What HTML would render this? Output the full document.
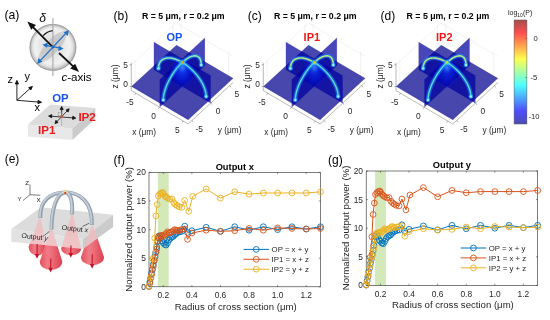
<!DOCTYPE html>
<html><head><meta charset="utf-8"><style>
html,body{margin:0;padding:0;background:#fff;width:550px;height:320px;overflow:hidden}
svg{display:block;filter:blur(0.3px)}
text{font-family:"Liberation Sans", sans-serif}
</style></head><body>
<svg width="550" height="320" viewBox="0 0 550 320" font-family='"Liberation Sans", sans-serif'>
<defs>
<radialGradient id="sph" cx="0.5" cy="0.5" r="0.5" fx="0.45" fy="0.42">
<stop offset="0" stop-color="#e0e0e0"/><stop offset="0.5" stop-color="#e6e6e6"/><stop offset="0.76" stop-color="#f2f2f2"/><stop offset="0.88" stop-color="#dedede"/><stop offset="0.96" stop-color="#bcbcbc"/><stop offset="1" stop-color="#959595"/></radialGradient>
<radialGradient id="glow" cx="0.5" cy="0.5" r="0.5" fx="0.5" fy="0.3">
<stop offset="0" stop-color="#1a50ff" stop-opacity="0.95"/><stop offset="0.55" stop-color="#0a28f0" stop-opacity="0.6"/><stop offset="1" stop-color="#0010d0" stop-opacity="0"/></radialGradient>
<radialGradient id="glow2" cx="0.5" cy="0.5" r="0.5">
<stop offset="0" stop-color="#3c8cff" stop-opacity="0.9"/><stop offset="1" stop-color="#2060ff" stop-opacity="0"/></radialGradient>
<linearGradient id="jet" x1="0" y1="1" x2="0" y2="0">
<stop offset="0" stop-color="#4d4db1"/><stop offset="0.125" stop-color="#4d4dff"/><stop offset="0.375" stop-color="#4dffff"/><stop offset="0.625" stop-color="#ffff4d"/><stop offset="0.875" stop-color="#ff4d4d"/><stop offset="1" stop-color="#a64d4d"/></linearGradient>
<linearGradient id="coneg" x1="0" y1="0" x2="1" y2="0">
<stop offset="0" stop-color="#e4505e"/><stop offset="0.35" stop-color="#ee7c86"/><stop offset="0.55" stop-color="#ec6e7a"/><stop offset="1" stop-color="#dc3e4e"/></linearGradient>
<radialGradient id="apexg" cx="0.5" cy="0.5" r="0.5"><stop offset="0" stop-color="#fff0a0" stop-opacity="0.9"/><stop offset="1" stop-color="#fff0a0" stop-opacity="0"/></radialGradient>
<clipPath id="below"><polygon points="0,241.8 11.3,241.8 83,249 113.1,227 120,227 120,300 0,300"/></clipPath>
</defs>
<text x="4.4" y="18.9" font-size="12.2">(a)</text>
<circle cx="52.9" cy="47.4" r="23.1" fill="url(#sph)" stroke="#8c8c8c" stroke-width="0.6"/>
<ellipse cx="52.3" cy="46.8" rx="20" ry="6.8" transform="rotate(-48 52.3 46.8)" fill="#8a8a8a" fill-opacity="0.3"/>
<line x1="52.9" y1="18" x2="52.9" y2="76" stroke="#a8a8a8" stroke-width="1.1"/>
<path d="M43.2,35.6 A15.5,15.5 0 0 1 52.6,30.6" fill="none" stroke="#111" stroke-width="1.3"/>
<text x="39.2" y="21.8" font-size="12" font-style="italic" font-family="'Liberation Serif', serif">δ</text>
<line x1="31" y1="25.1" x2="53.6" y2="47.9" stroke="#111" stroke-width="1.8"/>
<line x1="59" y1="53" x2="75.3" y2="68.4" stroke="#111" stroke-width="1.8"/>
<polygon points="27.3,21.6 36.0,25.0 31.2,29.8" fill="#111"/>
<polygon points="79.0,72.0 70.3,68.6 75.1,63.8" fill="#111"/>
<line x1="39.6" y1="61.4" x2="66.5" y2="32.6" stroke="#1f6fc4" stroke-width="1.3"/>
<polygon points="37.2,64.0 38.4,58.0 42.4,61.7" fill="#1f6fc4"/>
<polygon points="68.9,30.0 67.7,36.0 63.7,32.3" fill="#1f6fc4"/>
<line x1="45.5" y1="45.4" x2="60.5" y2="48.1" stroke="#1f6fc4" stroke-width="1.3"/>
<polygon points="42.4,44.8 47.9,42.6 47.0,47.8" fill="#1f6fc4"/>
<polygon points="63.6,48.7 58.1,50.9 59.0,45.7" fill="#1f6fc4"/>
<text x="61.4" y="81.2" font-size="11.6"><tspan font-style="italic">c</tspan>-axis</text>
<g stroke="#111" stroke-width="0.9" fill="#111">
<line x1="16.9" y1="100.3" x2="16.90" y2="83.50"/><polygon points="16.9,80.4 18.50,84.00 15.30,84.00"/><line x1="16.9" y1="100.3" x2="30.09" y2="88.47"/><polygon points="32.4,86.4 30.79,89.99 28.65,87.61"/><line x1="16.9" y1="100.3" x2="38.51" y2="102.05"/><polygon points="41.6,102.3 37.88,103.60 38.14,100.41"/>
</g>
<text x="7.6" y="83.4" font-size="11">z</text>
<text x="24.6" y="79.8" font-size="11">y</text>
<text x="34.6" y="110.6" font-size="11">x</text>
<polygon points="50.3,104.6 95.3,107.9 72.4,128.6 27.9,124.5" fill="#dcdcdc"/>
<polygon points="27.9,124.5 72.4,128.6 72.4,140 27.9,136.6" fill="#e8e8e8"/>
<polygon points="72.4,128.6 95.3,107.9 95.3,118.8 72.4,140" fill="#cbcbcb"/>
<g stroke="#111" stroke-width="0.8" fill="#111">
<line x1="61.7" y1="116.4" x2="61.7" y2="126" stroke="#aaa"/>
<line x1="50.8" y1="116.2" x2="73.5" y2="117.9"/><polygon points="48.6,116.0 51.8,114.6 51.6,117.8"/><polygon points="75.8,118.1 72.6,119.4 72.8,116.2"/>
<line x1="61.7" y1="116.4" x2="61.7" y2="108.6"/><polygon points="61.7,106.4 60.2,109.6 63.2,109.6"/>
<line x1="56.2" y1="122.4" x2="67.6" y2="110.4"/><polygon points="55.0,123.6 55.9,120.3 58.0,122.5"/><polygon points="69.2,108.8 68.1,112.1 66.1,109.9"/>
</g>
<rect x="58.2" y="112.6" width="3.2" height="3.2" fill="none" stroke="#999" stroke-width="0.5"/>
<circle cx="61.7" cy="116.6" r="1.3" fill="#d85a3a"/>
<text x="52.2" y="102.2" font-size="11.4" font-weight="bold" fill="#1852ee">OP</text>
<text x="38.0" y="133.8" font-size="11.6" font-weight="bold" fill="#f01818">IP1</text>
<text x="78.4" y="121.4" font-size="11.6" font-weight="bold" fill="#f01818">IP2</text>
<text x="113.6" y="19.6" font-size="12">(b)</text>
<text x="141.9" y="18.9" font-size="8.75" font-weight="bold">R = 5 μm, r = 0.2 μm</text>
<g stroke="#e6e6e6" stroke-width="0.5"><line x1="135.07" y1="87.12" x2="135.07" y2="59.38"/><line x1="181.23" y1="51.68" x2="181.23" y2="23.93"/><line x1="153.9" y1="69.75" x2="153.9" y2="42"/><line x1="204.9" y1="65.6" x2="204.9" y2="37.85"/><line x1="172.73" y1="52.38" x2="172.73" y2="24.62"/><line x1="228.57" y1="79.52" x2="228.57" y2="51.77"/><line x1="131.3" y1="64.8" x2="176.5" y2="23.1"/><line x1="176.5" y1="23.1" x2="233.3" y2="56.5"/><line x1="136.03" y1="93.38" x2="181.23" y2="51.68"/><line x1="135.07" y1="87.12" x2="191.87" y2="120.53"/><line x1="159.7" y1="107.3" x2="204.9" y2="65.6"/><line x1="153.9" y1="69.75" x2="210.7" y2="103.15"/><line x1="183.37" y1="121.22" x2="228.57" y2="79.52"/><line x1="172.73" y1="52.38" x2="229.53" y2="85.78"/></g>
<g stroke="#8a8a8a" stroke-width="0.6"><line x1="131.3" y1="90.6" x2="188.1" y2="124"/><line x1="188.1" y1="124" x2="233.3" y2="82.3"/><line x1="131.3" y1="90.6" x2="131.3" y2="62.85"/></g>
<g stroke="#555" stroke-width="0.5"><line x1="136.03" y1="93.38" x2="134.43" y2="94.88"/><line x1="191.87" y1="120.53" x2="193.47" y2="122.03"/><line x1="159.7" y1="107.3" x2="158.1" y2="108.8"/><line x1="210.7" y1="103.15" x2="212.3" y2="104.65"/><line x1="183.37" y1="121.22" x2="181.77" y2="122.72"/><line x1="229.53" y1="85.78" x2="231.13" y2="87.28"/><line x1="131.3" y1="86.6" x2="129.7" y2="86.6"/><line x1="131.3" y1="64.8" x2="129.7" y2="64.8"/></g>
<g font-size="8.4" fill="#262626" text-anchor="middle"><text x="130.03" y="104.78">-5</text><text x="199.27" y="131.53">-5</text><text x="153.7" y="118.7">0</text><text x="218.1" y="114.15">0</text><text x="177.37" y="132.62">5</text><text x="236.93" y="96.78">5</text></g>
<g font-size="8.4" fill="#262626" text-anchor="end"><text x="127.9" y="67.5">5</text><text x="127.9" y="87.3">0</text></g>
<text font-size="8.4" fill="#262626" text-anchor="middle" transform="translate(118.3,76.5) rotate(-90)">z (μm)</text>
<text x="144.2" y="134.6" font-size="8.3" fill="#262626" text-anchor="middle">x (μm)</text>
<text x="229.7" y="132.6" font-size="8.3" fill="#262626" text-anchor="middle">y (μm)</text>
<polygon points="131.3,86.6 188.1,120 233.3,78.3 176.5,44.9" fill="#00008f" fill-opacity="0.72"/>
<polygon points="153.9,69.75 210.7,103.15 210.7,75.4 153.9,42" fill="#0000a0" fill-opacity="0.72"/>
<polygon points="159.7,107.3 204.9,65.6 204.9,37.85 159.7,79.55" fill="#0000a0" fill-opacity="0.72"/>
<ellipse cx="182.3" cy="73.45" rx="13" ry="16" fill="url(#glow)" opacity="1.0"/>
<ellipse cx="182.3" cy="67.4" rx="5" ry="6" fill="url(#glow2)"/>
<path d="M179.21,60.75 L178.36,60.36 L177.51,59.99 L176.67,59.66 L175.84,59.35 L175.02,59.08 L174.21,58.83 L173.4,58.62 L172.61,58.43 L171.83,58.28 L171.07,58.16 L170.32,58.07 L169.58,58.01 L168.86,57.98 L168.16,57.99 L167.48,58.02 L166.82,58.09 L166.17,58.19 L165.55,58.32 L164.95,58.49 L164.37,58.68 L163.82,58.91 L163.28,59.16 L162.78,59.45 L162.3,59.76 L161.84,60.11 L161.41,60.48 L161.01,60.88 L160.64,61.31 L160.29,61.77 L159.97,62.26 L159.69,62.77 L159.43,63.3 L159.2,63.86 L159,64.45 L158.83,65.06 L158.69,65.69 L158.58,66.34 L158.51,67.02 L158.46,67.71 L158.44,68.42" fill="none" stroke="#1a8cff" stroke-opacity="0.55" stroke-width="4.2" stroke-linecap="round"/>
<path d="M201.28,64.94 L201.27,64.23 L201.23,63.54 L201.17,62.88 L201.09,62.24 L200.98,61.63 L200.84,61.04 L200.68,60.49 L200.5,59.96 L200.3,59.46 L200.07,58.99 L199.81,58.55 L199.54,58.15 L199.24,57.77 L198.92,57.43 L198.58,57.12 L198.22,56.84 L197.83,56.59 L197.43,56.38 L197.01,56.2 L196.57,56.06 L196.11,55.95 L195.63,55.88 L195.13,55.84 L194.62,55.83 L194.09,55.86 L193.55,55.92 L192.99,56.02 L192.42,56.15 L191.84,56.32 L191.24,56.52 L190.63,56.75 L190.01,57.02 L189.38,57.32 L188.74,57.65 L188.09,58.01 L187.44,58.41 L186.78,58.84 L186.11,59.29 L185.44,59.78 L184.76,60.3" fill="none" stroke="#1a8cff" stroke-opacity="0.55" stroke-width="4.2" stroke-linecap="round"/>
<path d="M206.16,96.48 L206.14,95.68 L206.08,94.86 L205.99,94.02 L205.86,93.17 L205.7,92.3 L205.5,91.41 L205.26,90.51 L204.99,89.6 L204.68,88.67 L204.34,87.74 L203.96,86.8 L203.56,85.85 L203.11,84.89 L202.64,83.93 L202.14,82.97 L201.6,82.01 L201.03,81.05 L200.44,80.1 L199.82,79.14 L199.17,78.19 L198.49,77.25 L197.79,76.31 L197.07,75.39 L196.32,74.47 L195.55,73.57 L194.76,72.68 L193.96,71.81 L193.13,70.95 L192.29,70.11 L191.43,69.29 L190.56,68.49 L189.67,67.72 L188.78,66.96 L187.87,66.23 L186.95,65.52 L186.03,64.84 L185.1,64.19 L184.17,63.56 L183.24,62.97 L182.3,62.4" fill="none" stroke="#1a8cff" stroke-opacity="0.55" stroke-width="4.2" stroke-linecap="round"/>
<path d="M182.3,62.4 L181.55,63.1 L180.81,63.84 L180.07,64.6 L179.33,65.39 L178.6,66.2 L177.87,67.04 L177.15,67.91 L176.43,68.79 L175.73,69.7 L175.04,70.63 L174.35,71.57 L173.68,72.54 L173.02,73.51 L172.38,74.51 L171.75,75.51 L171.14,76.52 L170.55,77.55 L169.97,78.58 L169.41,79.62 L168.88,80.66 L168.36,81.7 L167.86,82.75 L167.39,83.79 L166.94,84.83 L166.52,85.87 L166.11,86.91 L165.74,87.93 L165.39,88.95 L165.06,89.96 L164.76,90.96 L164.49,91.94 L164.25,92.91 L164.03,93.86 L163.84,94.8 L163.68,95.72 L163.55,96.61 L163.45,97.49 L163.37,98.34 L163.33,99.16 L163.32,99.96" fill="none" stroke="#1a8cff" stroke-opacity="0.55" stroke-width="4.2" stroke-linecap="round"/>
<path d="M179.21,60.75 L178.36,60.36 L177.51,59.99 L176.67,59.66 L175.84,59.35 L175.02,59.08 L174.21,58.83 L173.4,58.62 L172.61,58.43 L171.83,58.28 L171.07,58.16 L170.32,58.07 L169.58,58.01 L168.86,57.98 L168.16,57.99 L167.48,58.02 L166.82,58.09 L166.17,58.19 L165.55,58.32 L164.95,58.49 L164.37,58.68 L163.82,58.91 L163.28,59.16 L162.78,59.45 L162.3,59.76 L161.84,60.11 L161.41,60.48 L161.01,60.88 L160.64,61.31 L160.29,61.77 L159.97,62.26 L159.69,62.77 L159.43,63.3 L159.2,63.86 L159,64.45 L158.83,65.06 L158.69,65.69 L158.58,66.34 L158.51,67.02 L158.46,67.71 L158.44,68.42" fill="none" stroke="#88e8b8" stroke-width="1.6" stroke-linecap="round"/>
<path d="M201.28,64.94 L201.27,64.23 L201.23,63.54 L201.17,62.88 L201.09,62.24 L200.98,61.63 L200.84,61.04 L200.68,60.49 L200.5,59.96 L200.3,59.46 L200.07,58.99 L199.81,58.55 L199.54,58.15 L199.24,57.77 L198.92,57.43 L198.58,57.12 L198.22,56.84 L197.83,56.59 L197.43,56.38 L197.01,56.2 L196.57,56.06 L196.11,55.95 L195.63,55.88 L195.13,55.84 L194.62,55.83 L194.09,55.86 L193.55,55.92 L192.99,56.02 L192.42,56.15 L191.84,56.32 L191.24,56.52 L190.63,56.75 L190.01,57.02 L189.38,57.32 L188.74,57.65 L188.09,58.01 L187.44,58.41 L186.78,58.84 L186.11,59.29 L185.44,59.78 L184.76,60.3" fill="none" stroke="#88e8b8" stroke-width="1.6" stroke-linecap="round"/>
<path d="M206.16,96.48 L206.14,95.68 L206.08,94.86 L205.99,94.02 L205.86,93.17 L205.7,92.3 L205.5,91.41 L205.26,90.51 L204.99,89.6 L204.68,88.67 L204.34,87.74 L203.96,86.8 L203.56,85.85 L203.11,84.89 L202.64,83.93 L202.14,82.97 L201.6,82.01 L201.03,81.05 L200.44,80.1 L199.82,79.14 L199.17,78.19 L198.49,77.25 L197.79,76.31 L197.07,75.39 L196.32,74.47 L195.55,73.57 L194.76,72.68 L193.96,71.81 L193.13,70.95 L192.29,70.11 L191.43,69.29 L190.56,68.49 L189.67,67.72 L188.78,66.96 L187.87,66.23 L186.95,65.52 L186.03,64.84 L185.1,64.19 L184.17,63.56 L183.24,62.97 L182.3,62.4" fill="none" stroke="#5ad8d4" stroke-width="1.45" stroke-linecap="round"/>
<path d="M182.3,62.4 L181.55,63.1 L180.81,63.84 L180.07,64.6 L179.33,65.39 L178.6,66.2 L177.87,67.04 L177.15,67.91 L176.43,68.79 L175.73,69.7 L175.04,70.63 L174.35,71.57 L173.68,72.54 L173.02,73.51 L172.38,74.51 L171.75,75.51 L171.14,76.52 L170.55,77.55 L169.97,78.58 L169.41,79.62 L168.88,80.66 L168.36,81.7 L167.86,82.75 L167.39,83.79 L166.94,84.83 L166.52,85.87 L166.11,86.91 L165.74,87.93 L165.39,88.95 L165.06,89.96 L164.76,90.96 L164.49,91.94 L164.25,92.91 L164.03,93.86 L163.84,94.8 L163.68,95.72 L163.55,96.61 L163.45,97.49 L163.37,98.34 L163.33,99.16 L163.32,99.96" fill="none" stroke="#5ad8d4" stroke-width="1.45" stroke-linecap="round"/>
<circle cx="206.16" cy="96.48" r="2.3" fill="#30a0ff" fill-opacity="0.6"/>
<circle cx="206.16" cy="96.48" r="1.2" fill="#90f8e0"/>
<circle cx="158.44" cy="68.42" r="2.3" fill="#30a0ff" fill-opacity="0.6"/>
<circle cx="158.44" cy="68.42" r="1.2" fill="#90f8e0"/>
<circle cx="201.28" cy="64.94" r="2.3" fill="#30a0ff" fill-opacity="0.6"/>
<circle cx="201.28" cy="64.94" r="1.2" fill="#90f8e0"/>
<circle cx="163.32" cy="99.96" r="2.3" fill="#30a0ff" fill-opacity="0.6"/>
<circle cx="163.32" cy="99.96" r="1.2" fill="#90f8e0"/>
<circle cx="182.3" cy="62.4" r="2.8" fill="#40d8e0" fill-opacity="0.55"/>
<circle cx="182.3" cy="62.4" r="1.3" fill="#e8a020"/>
<text x="166.4" y="40.9" font-size="11" font-weight="bold" fill="#1852ee">OP</text>
<text x="247.8" y="19.6" font-size="12">(c)</text>
<text x="273.9" y="18.9" font-size="8.75" font-weight="bold">R = 5 μm, r = 0.2 μm</text>
<g stroke="#e6e6e6" stroke-width="0.5"><line x1="267.07" y1="87.12" x2="267.07" y2="59.38"/><line x1="313.23" y1="51.68" x2="313.23" y2="23.93"/><line x1="285.9" y1="69.75" x2="285.9" y2="42"/><line x1="336.9" y1="65.6" x2="336.9" y2="37.85"/><line x1="304.73" y1="52.38" x2="304.73" y2="24.62"/><line x1="360.57" y1="79.52" x2="360.57" y2="51.77"/><line x1="263.3" y1="64.8" x2="308.5" y2="23.1"/><line x1="308.5" y1="23.1" x2="365.3" y2="56.5"/><line x1="268.03" y1="93.38" x2="313.23" y2="51.68"/><line x1="267.07" y1="87.12" x2="323.87" y2="120.53"/><line x1="291.7" y1="107.3" x2="336.9" y2="65.6"/><line x1="285.9" y1="69.75" x2="342.7" y2="103.15"/><line x1="315.37" y1="121.22" x2="360.57" y2="79.52"/><line x1="304.73" y1="52.38" x2="361.53" y2="85.78"/></g>
<g stroke="#8a8a8a" stroke-width="0.6"><line x1="263.3" y1="90.6" x2="320.1" y2="124"/><line x1="320.1" y1="124" x2="365.3" y2="82.3"/><line x1="263.3" y1="90.6" x2="263.3" y2="62.85"/></g>
<g stroke="#555" stroke-width="0.5"><line x1="268.03" y1="93.38" x2="266.43" y2="94.88"/><line x1="323.87" y1="120.53" x2="325.47" y2="122.03"/><line x1="291.7" y1="107.3" x2="290.1" y2="108.8"/><line x1="342.7" y1="103.15" x2="344.3" y2="104.65"/><line x1="315.37" y1="121.22" x2="313.77" y2="122.72"/><line x1="361.53" y1="85.78" x2="363.13" y2="87.28"/><line x1="263.3" y1="86.6" x2="261.7" y2="86.6"/><line x1="263.3" y1="64.8" x2="261.7" y2="64.8"/></g>
<g font-size="8.4" fill="#262626" text-anchor="middle"><text x="262.03" y="104.78">-5</text><text x="331.27" y="131.53">-5</text><text x="285.7" y="118.7">0</text><text x="350.1" y="114.15">0</text><text x="309.37" y="132.62">5</text><text x="368.93" y="96.78">5</text></g>
<g font-size="8.4" fill="#262626" text-anchor="end"><text x="259.9" y="67.5">5</text><text x="259.9" y="87.3">0</text></g>
<text font-size="8.4" fill="#262626" text-anchor="middle" transform="translate(250.3,76.5) rotate(-90)">z (μm)</text>
<text x="276.2" y="134.6" font-size="8.3" fill="#262626" text-anchor="middle">x (μm)</text>
<text x="361.7" y="132.6" font-size="8.3" fill="#262626" text-anchor="middle">y (μm)</text>
<polygon points="263.3,86.6 320.1,120 365.3,78.3 308.5,44.9" fill="#00008f" fill-opacity="0.72"/>
<polygon points="285.9,69.75 342.7,103.15 342.7,75.4 285.9,42" fill="#0000a0" fill-opacity="0.72"/>
<polygon points="291.7,107.3 336.9,65.6 336.9,37.85 291.7,79.55" fill="#0000a0" fill-opacity="0.72"/>
<ellipse cx="314.3" cy="73.45" rx="13" ry="16" fill="url(#glow)" opacity="0.8"/>
<ellipse cx="314.3" cy="67.4" rx="5" ry="6" fill="url(#glow2)"/>
<path d="M311.21,60.75 L310.36,60.36 L309.51,59.99 L308.67,59.66 L307.84,59.35 L307.02,59.08 L306.21,58.83 L305.4,58.62 L304.61,58.43 L303.83,58.28 L303.07,58.16 L302.32,58.07 L301.58,58.01 L300.86,57.98 L300.16,57.99 L299.48,58.02 L298.82,58.09 L298.17,58.19 L297.55,58.32 L296.95,58.49 L296.37,58.68 L295.82,58.91 L295.28,59.16 L294.78,59.45 L294.3,59.76 L293.84,60.11 L293.41,60.48 L293.01,60.88 L292.64,61.31 L292.29,61.77 L291.97,62.26 L291.69,62.77 L291.43,63.3 L291.2,63.86 L291,64.45 L290.83,65.06 L290.69,65.69 L290.58,66.34 L290.51,67.02 L290.46,67.71 L290.44,68.42" fill="none" stroke="#1a8cff" stroke-opacity="0.55" stroke-width="4.2" stroke-linecap="round"/>
<path d="M333.28,64.94 L333.27,64.23 L333.23,63.54 L333.17,62.88 L333.09,62.24 L332.98,61.63 L332.84,61.04 L332.68,60.49 L332.5,59.96 L332.3,59.46 L332.07,58.99 L331.81,58.55 L331.54,58.15 L331.24,57.77 L330.92,57.43 L330.58,57.12 L330.22,56.84 L329.83,56.59 L329.43,56.38 L329.01,56.2 L328.57,56.06 L328.11,55.95 L327.63,55.88 L327.13,55.84 L326.62,55.83 L326.09,55.86 L325.55,55.92 L324.99,56.02 L324.42,56.15 L323.84,56.32 L323.24,56.52 L322.63,56.75 L322.01,57.02 L321.38,57.32 L320.74,57.65 L320.09,58.01 L319.44,58.41 L318.78,58.84 L318.11,59.29 L317.44,59.78 L316.76,60.3" fill="none" stroke="#1a8cff" stroke-opacity="0.55" stroke-width="4.2" stroke-linecap="round"/>
<path d="M338.16,96.48 L338.14,95.68 L338.08,94.86 L337.99,94.02 L337.86,93.17 L337.7,92.3 L337.5,91.41 L337.26,90.51 L336.99,89.6 L336.68,88.67 L336.34,87.74 L335.96,86.8 L335.56,85.85 L335.11,84.89 L334.64,83.93 L334.14,82.97 L333.6,82.01 L333.03,81.05 L332.44,80.1 L331.82,79.14 L331.17,78.19 L330.49,77.25 L329.79,76.31 L329.07,75.39 L328.32,74.47 L327.55,73.57 L326.76,72.68 L325.96,71.81 L325.13,70.95 L324.29,70.11 L323.43,69.29 L322.56,68.49 L321.67,67.72 L320.78,66.96 L319.87,66.23 L318.95,65.52 L318.03,64.84 L317.1,64.19 L316.17,63.56 L315.24,62.97 L314.3,62.4" fill="none" stroke="#1a8cff" stroke-opacity="0.55" stroke-width="4.2" stroke-linecap="round"/>
<path d="M314.3,62.4 L313.55,63.1 L312.81,63.84 L312.07,64.6 L311.33,65.39 L310.6,66.2 L309.87,67.04 L309.15,67.91 L308.43,68.79 L307.73,69.7 L307.04,70.63 L306.35,71.57 L305.68,72.54 L305.02,73.51 L304.38,74.51 L303.75,75.51 L303.14,76.52 L302.55,77.55 L301.97,78.58 L301.41,79.62 L300.88,80.66 L300.36,81.7 L299.86,82.75 L299.39,83.79 L298.94,84.83 L298.52,85.87 L298.11,86.91 L297.74,87.93 L297.39,88.95 L297.06,89.96 L296.76,90.96 L296.49,91.94 L296.25,92.91 L296.03,93.86 L295.84,94.8 L295.68,95.72 L295.55,96.61 L295.45,97.49 L295.37,98.34 L295.33,99.16 L295.32,99.96" fill="none" stroke="#1a8cff" stroke-opacity="0.55" stroke-width="4.2" stroke-linecap="round"/>
<path d="M311.21,60.75 L310.36,60.36 L309.51,59.99 L308.67,59.66 L307.84,59.35 L307.02,59.08 L306.21,58.83 L305.4,58.62 L304.61,58.43 L303.83,58.28 L303.07,58.16 L302.32,58.07 L301.58,58.01 L300.86,57.98 L300.16,57.99 L299.48,58.02 L298.82,58.09 L298.17,58.19 L297.55,58.32 L296.95,58.49 L296.37,58.68 L295.82,58.91 L295.28,59.16 L294.78,59.45 L294.3,59.76 L293.84,60.11 L293.41,60.48 L293.01,60.88 L292.64,61.31 L292.29,61.77 L291.97,62.26 L291.69,62.77 L291.43,63.3 L291.2,63.86 L291,64.45 L290.83,65.06 L290.69,65.69 L290.58,66.34 L290.51,67.02 L290.46,67.71 L290.44,68.42" fill="none" stroke="#b0e888" stroke-width="1.6" stroke-linecap="round"/>
<path d="M333.28,64.94 L333.27,64.23 L333.23,63.54 L333.17,62.88 L333.09,62.24 L332.98,61.63 L332.84,61.04 L332.68,60.49 L332.5,59.96 L332.3,59.46 L332.07,58.99 L331.81,58.55 L331.54,58.15 L331.24,57.77 L330.92,57.43 L330.58,57.12 L330.22,56.84 L329.83,56.59 L329.43,56.38 L329.01,56.2 L328.57,56.06 L328.11,55.95 L327.63,55.88 L327.13,55.84 L326.62,55.83 L326.09,55.86 L325.55,55.92 L324.99,56.02 L324.42,56.15 L323.84,56.32 L323.24,56.52 L322.63,56.75 L322.01,57.02 L321.38,57.32 L320.74,57.65 L320.09,58.01 L319.44,58.41 L318.78,58.84 L318.11,59.29 L317.44,59.78 L316.76,60.3" fill="none" stroke="#b0e888" stroke-width="1.6" stroke-linecap="round"/>
<path d="M338.16,96.48 L338.14,95.68 L338.08,94.86 L337.99,94.02 L337.86,93.17 L337.7,92.3 L337.5,91.41 L337.26,90.51 L336.99,89.6 L336.68,88.67 L336.34,87.74 L335.96,86.8 L335.56,85.85 L335.11,84.89 L334.64,83.93 L334.14,82.97 L333.6,82.01 L333.03,81.05 L332.44,80.1 L331.82,79.14 L331.17,78.19 L330.49,77.25 L329.79,76.31 L329.07,75.39 L328.32,74.47 L327.55,73.57 L326.76,72.68 L325.96,71.81 L325.13,70.95 L324.29,70.11 L323.43,69.29 L322.56,68.49 L321.67,67.72 L320.78,66.96 L319.87,66.23 L318.95,65.52 L318.03,64.84 L317.1,64.19 L316.17,63.56 L315.24,62.97 L314.3,62.4" fill="none" stroke="#5ad8d4" stroke-width="1.45" stroke-linecap="round"/>
<path d="M314.3,62.4 L313.55,63.1 L312.81,63.84 L312.07,64.6 L311.33,65.39 L310.6,66.2 L309.87,67.04 L309.15,67.91 L308.43,68.79 L307.73,69.7 L307.04,70.63 L306.35,71.57 L305.68,72.54 L305.02,73.51 L304.38,74.51 L303.75,75.51 L303.14,76.52 L302.55,77.55 L301.97,78.58 L301.41,79.62 L300.88,80.66 L300.36,81.7 L299.86,82.75 L299.39,83.79 L298.94,84.83 L298.52,85.87 L298.11,86.91 L297.74,87.93 L297.39,88.95 L297.06,89.96 L296.76,90.96 L296.49,91.94 L296.25,92.91 L296.03,93.86 L295.84,94.8 L295.68,95.72 L295.55,96.61 L295.45,97.49 L295.37,98.34 L295.33,99.16 L295.32,99.96" fill="none" stroke="#5ad8d4" stroke-width="1.45" stroke-linecap="round"/>
<circle cx="338.16" cy="96.48" r="2.3" fill="#30a0ff" fill-opacity="0.6"/>
<circle cx="338.16" cy="96.48" r="1.2" fill="#90f8e0"/>
<circle cx="290.44" cy="68.42" r="2.3" fill="#30a0ff" fill-opacity="0.6"/>
<circle cx="290.44" cy="68.42" r="1.2" fill="#90f8e0"/>
<circle cx="333.28" cy="64.94" r="2.3" fill="#30a0ff" fill-opacity="0.6"/>
<circle cx="333.28" cy="64.94" r="1.2" fill="#90f8e0"/>
<circle cx="295.32" cy="99.96" r="2.3" fill="#30a0ff" fill-opacity="0.6"/>
<circle cx="295.32" cy="99.96" r="1.2" fill="#90f8e0"/>
<circle cx="314.3" cy="62.4" r="2.8" fill="#40d8e0" fill-opacity="0.55"/>
<circle cx="314.3" cy="62.4" r="1.3" fill="#e8c030"/>
<text x="303.6" y="40.9" font-size="11" font-weight="bold" fill="#f01818">IP1</text>
<text x="380.5" y="19.6" font-size="12">(d)</text>
<text x="406.6" y="18.9" font-size="8.75" font-weight="bold">R = 5 μm, r = 0.2 μm</text>
<g stroke="#e6e6e6" stroke-width="0.5"><line x1="399.77" y1="87.12" x2="399.77" y2="59.38"/><line x1="445.93" y1="51.68" x2="445.93" y2="23.93"/><line x1="418.6" y1="69.75" x2="418.6" y2="42"/><line x1="469.6" y1="65.6" x2="469.6" y2="37.85"/><line x1="437.43" y1="52.38" x2="437.43" y2="24.62"/><line x1="493.27" y1="79.52" x2="493.27" y2="51.77"/><line x1="396" y1="64.8" x2="441.2" y2="23.1"/><line x1="441.2" y1="23.1" x2="498" y2="56.5"/><line x1="400.73" y1="93.38" x2="445.93" y2="51.68"/><line x1="399.77" y1="87.12" x2="456.57" y2="120.53"/><line x1="424.4" y1="107.3" x2="469.6" y2="65.6"/><line x1="418.6" y1="69.75" x2="475.4" y2="103.15"/><line x1="448.07" y1="121.22" x2="493.27" y2="79.52"/><line x1="437.43" y1="52.38" x2="494.23" y2="85.78"/></g>
<g stroke="#8a8a8a" stroke-width="0.6"><line x1="396" y1="90.6" x2="452.8" y2="124"/><line x1="452.8" y1="124" x2="498" y2="82.3"/><line x1="396" y1="90.6" x2="396" y2="62.85"/></g>
<g stroke="#555" stroke-width="0.5"><line x1="400.73" y1="93.38" x2="399.13" y2="94.88"/><line x1="456.57" y1="120.53" x2="458.17" y2="122.03"/><line x1="424.4" y1="107.3" x2="422.8" y2="108.8"/><line x1="475.4" y1="103.15" x2="477" y2="104.65"/><line x1="448.07" y1="121.22" x2="446.47" y2="122.72"/><line x1="494.23" y1="85.78" x2="495.83" y2="87.28"/><line x1="396" y1="86.6" x2="394.4" y2="86.6"/><line x1="396" y1="64.8" x2="394.4" y2="64.8"/></g>
<g font-size="8.4" fill="#262626" text-anchor="middle"><text x="394.73" y="104.78">-5</text><text x="463.97" y="131.53">-5</text><text x="418.4" y="118.7">0</text><text x="482.8" y="114.15">0</text><text x="442.07" y="132.62">5</text><text x="501.63" y="96.78">5</text></g>
<g font-size="8.4" fill="#262626" text-anchor="end"><text x="392.6" y="67.5">5</text><text x="392.6" y="87.3">0</text></g>
<text font-size="8.4" fill="#262626" text-anchor="middle" transform="translate(383,76.5) rotate(-90)">z (μm)</text>
<text x="408.9" y="134.6" font-size="8.3" fill="#262626" text-anchor="middle">x (μm)</text>
<text x="494.4" y="132.6" font-size="8.3" fill="#262626" text-anchor="middle">y (μm)</text>
<polygon points="396,86.6 452.8,120 498,78.3 441.2,44.9" fill="#00008f" fill-opacity="0.72"/>
<polygon points="418.6,69.75 475.4,103.15 475.4,75.4 418.6,42" fill="#0000a0" fill-opacity="0.72"/>
<polygon points="424.4,107.3 469.6,65.6 469.6,37.85 424.4,79.55" fill="#0000a0" fill-opacity="0.72"/>
<ellipse cx="447" cy="73.45" rx="13" ry="16" fill="url(#glow)" opacity="0.8"/>
<ellipse cx="447" cy="67.4" rx="5" ry="6" fill="url(#glow2)"/>
<path d="M443.91,60.75 L443.06,60.36 L442.21,59.99 L441.37,59.66 L440.54,59.35 L439.72,59.08 L438.91,58.83 L438.1,58.62 L437.31,58.43 L436.53,58.28 L435.77,58.16 L435.02,58.07 L434.28,58.01 L433.56,57.98 L432.86,57.99 L432.18,58.02 L431.52,58.09 L430.87,58.19 L430.25,58.32 L429.65,58.49 L429.07,58.68 L428.52,58.91 L427.98,59.16 L427.48,59.45 L427,59.76 L426.54,60.11 L426.11,60.48 L425.71,60.88 L425.34,61.31 L424.99,61.77 L424.67,62.26 L424.39,62.77 L424.13,63.3 L423.9,63.86 L423.7,64.45 L423.53,65.06 L423.39,65.69 L423.28,66.34 L423.21,67.02 L423.16,67.71 L423.14,68.42" fill="none" stroke="#1a8cff" stroke-opacity="0.55" stroke-width="4.2" stroke-linecap="round"/>
<path d="M465.98,64.94 L465.97,64.23 L465.93,63.54 L465.87,62.88 L465.79,62.24 L465.68,61.63 L465.54,61.04 L465.38,60.49 L465.2,59.96 L465,59.46 L464.77,58.99 L464.51,58.55 L464.24,58.15 L463.94,57.77 L463.62,57.43 L463.28,57.12 L462.92,56.84 L462.53,56.59 L462.13,56.38 L461.71,56.2 L461.27,56.06 L460.81,55.95 L460.33,55.88 L459.83,55.84 L459.32,55.83 L458.79,55.86 L458.25,55.92 L457.69,56.02 L457.12,56.15 L456.54,56.32 L455.94,56.52 L455.33,56.75 L454.71,57.02 L454.08,57.32 L453.44,57.65 L452.79,58.01 L452.14,58.41 L451.48,58.84 L450.81,59.29 L450.14,59.78 L449.46,60.3" fill="none" stroke="#1a8cff" stroke-opacity="0.55" stroke-width="4.2" stroke-linecap="round"/>
<path d="M470.86,96.48 L470.84,95.68 L470.78,94.86 L470.69,94.02 L470.56,93.17 L470.4,92.3 L470.2,91.41 L469.96,90.51 L469.69,89.6 L469.38,88.67 L469.04,87.74 L468.66,86.8 L468.26,85.85 L467.81,84.89 L467.34,83.93 L466.84,82.97 L466.3,82.01 L465.73,81.05 L465.14,80.1 L464.52,79.14 L463.87,78.19 L463.19,77.25 L462.49,76.31 L461.77,75.39 L461.02,74.47 L460.25,73.57 L459.46,72.68 L458.66,71.81 L457.83,70.95 L456.99,70.11 L456.13,69.29 L455.26,68.49 L454.37,67.72 L453.48,66.96 L452.57,66.23 L451.65,65.52 L450.73,64.84 L449.8,64.19 L448.87,63.56 L447.94,62.97 L447,62.4" fill="none" stroke="#1a8cff" stroke-opacity="0.55" stroke-width="4.2" stroke-linecap="round"/>
<path d="M447,62.4 L446.25,63.1 L445.51,63.84 L444.77,64.6 L444.03,65.39 L443.3,66.2 L442.57,67.04 L441.85,67.91 L441.13,68.79 L440.43,69.7 L439.74,70.63 L439.05,71.57 L438.38,72.54 L437.72,73.51 L437.08,74.51 L436.45,75.51 L435.84,76.52 L435.25,77.55 L434.67,78.58 L434.11,79.62 L433.58,80.66 L433.06,81.7 L432.56,82.75 L432.09,83.79 L431.64,84.83 L431.22,85.87 L430.81,86.91 L430.44,87.93 L430.09,88.95 L429.76,89.96 L429.46,90.96 L429.19,91.94 L428.95,92.91 L428.73,93.86 L428.54,94.8 L428.38,95.72 L428.25,96.61 L428.15,97.49 L428.07,98.34 L428.03,99.16 L428.02,99.96" fill="none" stroke="#1a8cff" stroke-opacity="0.55" stroke-width="4.2" stroke-linecap="round"/>
<path d="M443.91,60.75 L443.06,60.36 L442.21,59.99 L441.37,59.66 L440.54,59.35 L439.72,59.08 L438.91,58.83 L438.1,58.62 L437.31,58.43 L436.53,58.28 L435.77,58.16 L435.02,58.07 L434.28,58.01 L433.56,57.98 L432.86,57.99 L432.18,58.02 L431.52,58.09 L430.87,58.19 L430.25,58.32 L429.65,58.49 L429.07,58.68 L428.52,58.91 L427.98,59.16 L427.48,59.45 L427,59.76 L426.54,60.11 L426.11,60.48 L425.71,60.88 L425.34,61.31 L424.99,61.77 L424.67,62.26 L424.39,62.77 L424.13,63.3 L423.9,63.86 L423.7,64.45 L423.53,65.06 L423.39,65.69 L423.28,66.34 L423.21,67.02 L423.16,67.71 L423.14,68.42" fill="none" stroke="#b0e888" stroke-width="1.6" stroke-linecap="round"/>
<path d="M465.98,64.94 L465.97,64.23 L465.93,63.54 L465.87,62.88 L465.79,62.24 L465.68,61.63 L465.54,61.04 L465.38,60.49 L465.2,59.96 L465,59.46 L464.77,58.99 L464.51,58.55 L464.24,58.15 L463.94,57.77 L463.62,57.43 L463.28,57.12 L462.92,56.84 L462.53,56.59 L462.13,56.38 L461.71,56.2 L461.27,56.06 L460.81,55.95 L460.33,55.88 L459.83,55.84 L459.32,55.83 L458.79,55.86 L458.25,55.92 L457.69,56.02 L457.12,56.15 L456.54,56.32 L455.94,56.52 L455.33,56.75 L454.71,57.02 L454.08,57.32 L453.44,57.65 L452.79,58.01 L452.14,58.41 L451.48,58.84 L450.81,59.29 L450.14,59.78 L449.46,60.3" fill="none" stroke="#b0e888" stroke-width="1.6" stroke-linecap="round"/>
<path d="M470.86,96.48 L470.84,95.68 L470.78,94.86 L470.69,94.02 L470.56,93.17 L470.4,92.3 L470.2,91.41 L469.96,90.51 L469.69,89.6 L469.38,88.67 L469.04,87.74 L468.66,86.8 L468.26,85.85 L467.81,84.89 L467.34,83.93 L466.84,82.97 L466.3,82.01 L465.73,81.05 L465.14,80.1 L464.52,79.14 L463.87,78.19 L463.19,77.25 L462.49,76.31 L461.77,75.39 L461.02,74.47 L460.25,73.57 L459.46,72.68 L458.66,71.81 L457.83,70.95 L456.99,70.11 L456.13,69.29 L455.26,68.49 L454.37,67.72 L453.48,66.96 L452.57,66.23 L451.65,65.52 L450.73,64.84 L449.8,64.19 L448.87,63.56 L447.94,62.97 L447,62.4" fill="none" stroke="#5ad8d4" stroke-width="1.45" stroke-linecap="round"/>
<path d="M447,62.4 L446.25,63.1 L445.51,63.84 L444.77,64.6 L444.03,65.39 L443.3,66.2 L442.57,67.04 L441.85,67.91 L441.13,68.79 L440.43,69.7 L439.74,70.63 L439.05,71.57 L438.38,72.54 L437.72,73.51 L437.08,74.51 L436.45,75.51 L435.84,76.52 L435.25,77.55 L434.67,78.58 L434.11,79.62 L433.58,80.66 L433.06,81.7 L432.56,82.75 L432.09,83.79 L431.64,84.83 L431.22,85.87 L430.81,86.91 L430.44,87.93 L430.09,88.95 L429.76,89.96 L429.46,90.96 L429.19,91.94 L428.95,92.91 L428.73,93.86 L428.54,94.8 L428.38,95.72 L428.25,96.61 L428.15,97.49 L428.07,98.34 L428.03,99.16 L428.02,99.96" fill="none" stroke="#5ad8d4" stroke-width="1.45" stroke-linecap="round"/>
<circle cx="470.86" cy="96.48" r="2.3" fill="#30a0ff" fill-opacity="0.6"/>
<circle cx="470.86" cy="96.48" r="1.2" fill="#90f8e0"/>
<circle cx="423.14" cy="68.42" r="2.3" fill="#30a0ff" fill-opacity="0.6"/>
<circle cx="423.14" cy="68.42" r="1.2" fill="#90f8e0"/>
<circle cx="465.98" cy="64.94" r="2.3" fill="#30a0ff" fill-opacity="0.6"/>
<circle cx="465.98" cy="64.94" r="1.2" fill="#90f8e0"/>
<circle cx="428.02" cy="99.96" r="2.3" fill="#30a0ff" fill-opacity="0.6"/>
<circle cx="428.02" cy="99.96" r="1.2" fill="#90f8e0"/>
<circle cx="447" cy="62.4" r="2.8" fill="#40d8e0" fill-opacity="0.55"/>
<circle cx="447" cy="62.4" r="1.3" fill="#c0e040"/>
<text x="436.0" y="40.9" font-size="11" font-weight="bold" fill="#f01818">IP2</text>
<rect x="514.1" y="20" width="12.8" height="104" fill="url(#jet)" stroke="#555" stroke-width="0.5"/>
<line x1="525.2" y1="38.6" x2="526.9" y2="38.6" stroke="#444" stroke-width="0.5"/>
<line x1="525.2" y1="77.5" x2="526.9" y2="77.5" stroke="#444" stroke-width="0.5"/>
<line x1="525.2" y1="116.5" x2="526.9" y2="116.5" stroke="#444" stroke-width="0.5"/>
<g font-size="7.6" fill="#262626"><text x="533.4" y="41.3">0</text><text x="530.6" y="80.2">-5</text><text x="528.4" y="119.2">-10</text></g>
<text x="508" y="15.4" font-size="7" fill="#262626">log<tspan font-size="5" dy="1.6">10</tspan><tspan dy="-1.6">(P)</tspan></text>
<text x="4.7" y="163.4" font-size="12">(e)</text>
<polygon points="41,207.2 113.1,214.75 83,239 11.3,229" fill="#dcdcdc"/>
<polygon points="11.3,229 83,239 83,249 11.3,241.8" fill="#e2e2e2"/>
<polygon points="83,239 113.1,214.75 113.1,227 83,249" fill="#cbcbcb"/>
<path d="M39.2,218.5 L28.599999999999998,247.0 A8.8,8.5 0 0 0 46.2,247.0 L40.8,218.5 Z" fill="#f2b8bc" fill-opacity="0.72"/>
<path d="M39.2,218.5 L28.599999999999998,247.0 A8.8,8.5 0 0 0 46.2,247.0 L40.8,218.5 Z" fill="url(#coneg)" clip-path="url(#below)"/>
<line x1="37.199999999999996" y1="244.0" x2="37.0" y2="254.8" stroke="#c41426" stroke-width="1.1"/>
<polygon points="37.0,258.8 34.7,254.0 39.3,254.0" fill="#c41426"/>
<path d="M71.3,214.5 L61.2,248.4 A10.0,6.8 0 0 0 81.2,248.4 L72.89999999999999,214.5 Z" fill="#f2b8bc" fill-opacity="0.72"/>
<path d="M71.3,214.5 L61.2,248.4 A10.0,6.8 0 0 0 81.2,248.4 L72.89999999999999,214.5 Z" fill="url(#coneg)" clip-path="url(#below)"/>
<line x1="71.0" y1="245.4" x2="70.8" y2="253.8" stroke="#c41426" stroke-width="1.1"/>
<polygon points="70.8,257.8 68.5,253.0 73.1,253.0" fill="#c41426"/>
<path d="M50.7,229.5 L39.8,261.6 A11.2,8.5 0 0 0 62.2,261.6 L52.3,229.5 Z" fill="#f2b8bc" fill-opacity="0.72"/>
<path d="M50.7,229.5 L39.8,261.6 A11.2,8.5 0 0 0 62.2,261.6 L52.3,229.5 Z" fill="url(#coneg)" clip-path="url(#below)"/>
<line x1="50.8" y1="258.6" x2="50.6" y2="268.6" stroke="#c41426" stroke-width="1.1"/>
<polygon points="50.6,272.6 48.300000000000004,267.8 52.9,267.8" fill="#c41426"/>
<path d="M91.5,226 L81.0,257.2 A11.5,8.0 0 0 0 104.0,257.2 L93.1,226 Z" fill="#f2b8bc" fill-opacity="0.72"/>
<path d="M91.5,226 L81.0,257.2 A11.5,8.0 0 0 0 104.0,257.2 L93.1,226 Z" fill="url(#coneg)" clip-path="url(#below)"/>
<line x1="92.3" y1="254.2" x2="92.1" y2="264.8" stroke="#c41426" stroke-width="1.1"/>
<polygon points="92.1,268.8 89.8,264.0 94.39999999999999,264.0" fill="#c41426"/>
<path d="M40.3,218 C39.6,201 50,192.6 65.3,192.4 C80,192.6 92.6,202 91.9,225" fill="none" stroke="#929eac" stroke-width="3.9"/>
<path d="M40.3,218 C39.6,201 50,192.6 65.3,192.4 C80,192.6 92.6,202 91.9,225" fill="none" stroke="#c4ced8" stroke-width="1.8" transform="translate(-0.4,-0.5)"/>
<path d="M51.5,229.5 C51.6,210 56,193.5 65.3,192.4 C71,193 72.8,203 72.1,214.5" fill="none" stroke="#929eac" stroke-width="3.9"/>
<path d="M51.5,229.5 C51.6,210 56,193.5 65.3,192.4 C71,193 72.8,203 72.1,214.5" fill="none" stroke="#c4ced8" stroke-width="1.8" transform="translate(-0.4,-0.5)"/>
<circle cx="65.3" cy="191.6" r="3.6" fill="url(#apexg)"/>
<circle cx="65.3" cy="192.9" r="1.1" fill="#e83010"/>
<text x="21.6" y="239.2" font-size="7" fill="#1a1a1a" transform="rotate(6 34 236)">Output <tspan font-style="italic">y</tspan></text>
<line x1="43" y1="236.4" x2="49.5" y2="231.4" stroke="#1a1a1a" stroke-width="0.6"/>
<text x="61.8" y="231" font-size="7" fill="#1a1a1a" transform="rotate(6 74 228)">Output <tspan font-style="italic">x</tspan></text>
<line x1="82.5" y1="226.5" x2="89" y2="223.3" stroke="#1a1a1a" stroke-width="0.6"/>
<g stroke="#222" stroke-width="0.6"><line x1="30" y1="194.7" x2="30" y2="184.5"/><line x1="30" y1="194.7" x2="40.3" y2="195.3"/><line x1="30" y1="194.7" x2="23" y2="200.5"/></g>
<g font-size="6.2" fill="#222"><text x="25.2" y="184.6">Z</text><text x="36.4" y="201.9">X</text><text x="17.6" y="201.2">Y</text></g>
<text x="113.6" y="163.6" font-size="12">(f)</text>
<rect x="157.86" y="172.4" width="10.86" height="114.4" fill="#d4e9b9"/>
<rect x="149" y="172.4" width="171.5" height="114.4" fill="none" stroke="#262626" stroke-width="0.6"/>
<g stroke="#262626" stroke-width="0.5"><line x1="163.29" y1="286.8" x2="163.29" y2="285.1"/><line x1="163.29" y1="172.4" x2="163.29" y2="174.1"/><line x1="191.88" y1="286.8" x2="191.88" y2="285.1"/><line x1="191.88" y1="172.4" x2="191.88" y2="174.1"/><line x1="220.46" y1="286.8" x2="220.46" y2="285.1"/><line x1="220.46" y1="172.4" x2="220.46" y2="174.1"/><line x1="249.04" y1="286.8" x2="249.04" y2="285.1"/><line x1="249.04" y1="172.4" x2="249.04" y2="174.1"/><line x1="277.62" y1="286.8" x2="277.62" y2="285.1"/><line x1="277.62" y1="172.4" x2="277.62" y2="174.1"/><line x1="306.21" y1="286.8" x2="306.21" y2="285.1"/><line x1="306.21" y1="172.4" x2="306.21" y2="174.1"/><line x1="149" y1="286.8" x2="150.7" y2="286.8"/><line x1="320.5" y1="286.8" x2="318.8" y2="286.8"/><line x1="149" y1="258.2" x2="150.7" y2="258.2"/><line x1="320.5" y1="258.2" x2="318.8" y2="258.2"/><line x1="149" y1="229.6" x2="150.7" y2="229.6"/><line x1="320.5" y1="229.6" x2="318.8" y2="229.6"/><line x1="149" y1="201" x2="150.7" y2="201"/><line x1="320.5" y1="201" x2="318.8" y2="201"/><line x1="149" y1="172.4" x2="150.7" y2="172.4"/><line x1="320.5" y1="172.4" x2="318.8" y2="172.4"/></g>
<g font-size="8.4" fill="#262626"><text x="163.29" y="298" text-anchor="middle">0.2</text><text x="191.88" y="298" text-anchor="middle">0.4</text><text x="220.46" y="298" text-anchor="middle">0.6</text><text x="249.04" y="298" text-anchor="middle">0.8</text><text x="277.62" y="298" text-anchor="middle">1.0</text><text x="306.21" y="298" text-anchor="middle">1.2</text><text x="145.8" y="289.8" text-anchor="end">0</text><text x="145.8" y="261.2" text-anchor="end">5</text><text x="145.8" y="232.6" text-anchor="end">10</text><text x="145.8" y="204" text-anchor="end">15</text><text x="145.8" y="175.4" text-anchor="end">20</text></g>
<text x="235.75" y="309.5" font-size="9.6" fill="#262626" text-anchor="middle">Radius of cross section (μm)</text>
<text font-size="9.65" fill="#262626" text-anchor="middle" transform="translate(131.9,229.3) rotate(-90)">Normalized output power (%)</text>
<text x="234.75" y="169.6" font-size="9.3" font-weight="bold" fill="#000" text-anchor="middle">Output x</text>
<polyline points="149,286.51 149.86,281.98 150.72,278.44 151.57,273.19 152.43,269.66 153.29,264.41 154.15,260.87 155,255.62 155.86,252.09 156.72,246.83 157.57,241.04 158.29,237.61 159,235.89 160.43,238.18 161.86,241.04 163.29,242.76 164.72,244.47 166.15,245.04 167.58,242.76 169.01,239.9 170.44,238.18 171.87,237.04 173.3,236.46 174.72,234.75 176.15,233.6 177.58,232.46 179.73,231.89 181.87,231.32 184.73,226.17 187.59,232.46 191.88,230.74 206.17,227.31 220.46,231.32 234.75,226.74 249.04,230.17 263.33,226.74 277.62,229.6 291.92,226.74 306.21,229.03 320.5,226.74" fill="none" stroke="#0072bd" stroke-width="1"/>
<g fill="none" stroke="#0072bd" stroke-width="0.9"><circle cx="149" cy="286.51" r="2.9"/><circle cx="149.86" cy="281.98" r="2.9"/><circle cx="150.72" cy="278.44" r="2.9"/><circle cx="151.57" cy="273.19" r="2.9"/><circle cx="152.43" cy="269.66" r="2.9"/><circle cx="153.29" cy="264.41" r="2.9"/><circle cx="154.15" cy="260.87" r="2.9"/><circle cx="155" cy="255.62" r="2.9"/><circle cx="155.86" cy="252.09" r="2.9"/><circle cx="156.72" cy="246.83" r="2.9"/><circle cx="157.57" cy="241.04" r="2.9"/><circle cx="158.29" cy="237.61" r="2.9"/><circle cx="159" cy="235.89" r="2.9"/><circle cx="160.43" cy="238.18" r="2.9"/><circle cx="161.86" cy="241.04" r="2.9"/><circle cx="163.29" cy="242.76" r="2.9"/><circle cx="164.72" cy="244.47" r="2.9"/><circle cx="166.15" cy="245.04" r="2.9"/><circle cx="167.58" cy="242.76" r="2.9"/><circle cx="169.01" cy="239.9" r="2.9"/><circle cx="170.44" cy="238.18" r="2.9"/><circle cx="171.87" cy="237.04" r="2.9"/><circle cx="173.3" cy="236.46" r="2.9"/><circle cx="174.72" cy="234.75" r="2.9"/><circle cx="176.15" cy="233.6" r="2.9"/><circle cx="177.58" cy="232.46" r="2.9"/><circle cx="179.73" cy="231.89" r="2.9"/><circle cx="181.87" cy="231.32" r="2.9"/><circle cx="184.73" cy="226.17" r="2.9"/><circle cx="187.59" cy="232.46" r="2.9"/><circle cx="191.88" cy="230.74" r="2.9"/><circle cx="206.17" cy="227.31" r="2.9"/><circle cx="220.46" cy="231.32" r="2.9"/><circle cx="234.75" cy="226.74" r="2.9"/><circle cx="249.04" cy="230.17" r="2.9"/><circle cx="263.33" cy="226.74" r="2.9"/><circle cx="277.62" cy="229.6" r="2.9"/><circle cx="291.92" cy="226.74" r="2.9"/><circle cx="306.21" cy="229.03" r="2.9"/><circle cx="320.5" cy="226.74" r="2.9"/></g>
<polyline points="149,286.23 149.86,283.12 150.72,277.72 151.57,274.6 152.43,269.21 153.29,266.09 154.15,260.69 155,257.58 155.86,252.18 156.72,249.07 157.57,241.04 158.29,238.18 159,236.46 160.43,235.89 161.86,235.32 163.29,236.46 164.72,234.75 166.15,233.6 167.58,231.89 169.01,233.03 170.44,232.46 171.87,231.89 173.3,230.74 174.72,229.6 176.15,230.17 177.58,230.74 179.73,230.17 181.87,229.6 184.73,229.03 187.59,239.32 191.88,233.03 206.17,230.17 220.46,231.32 234.75,230.74 249.04,228.46 263.33,230.17 277.62,227.88 291.92,228.46 306.21,229.03 320.5,228.46" fill="none" stroke="#d95319" stroke-width="1"/>
<g fill="none" stroke="#d95319" stroke-width="0.9"><circle cx="149" cy="286.23" r="2.9"/><circle cx="149.86" cy="283.12" r="2.9"/><circle cx="150.72" cy="277.72" r="2.9"/><circle cx="151.57" cy="274.6" r="2.9"/><circle cx="152.43" cy="269.21" r="2.9"/><circle cx="153.29" cy="266.09" r="2.9"/><circle cx="154.15" cy="260.69" r="2.9"/><circle cx="155" cy="257.58" r="2.9"/><circle cx="155.86" cy="252.18" r="2.9"/><circle cx="156.72" cy="249.07" r="2.9"/><circle cx="157.57" cy="241.04" r="2.9"/><circle cx="158.29" cy="238.18" r="2.9"/><circle cx="159" cy="236.46" r="2.9"/><circle cx="160.43" cy="235.89" r="2.9"/><circle cx="161.86" cy="235.32" r="2.9"/><circle cx="163.29" cy="236.46" r="2.9"/><circle cx="164.72" cy="234.75" r="2.9"/><circle cx="166.15" cy="233.6" r="2.9"/><circle cx="167.58" cy="231.89" r="2.9"/><circle cx="169.01" cy="233.03" r="2.9"/><circle cx="170.44" cy="232.46" r="2.9"/><circle cx="171.87" cy="231.89" r="2.9"/><circle cx="173.3" cy="230.74" r="2.9"/><circle cx="174.72" cy="229.6" r="2.9"/><circle cx="176.15" cy="230.17" r="2.9"/><circle cx="177.58" cy="230.74" r="2.9"/><circle cx="179.73" cy="230.17" r="2.9"/><circle cx="181.87" cy="229.6" r="2.9"/><circle cx="184.73" cy="229.03" r="2.9"/><circle cx="187.59" cy="239.32" r="2.9"/><circle cx="191.88" cy="233.03" r="2.9"/><circle cx="206.17" cy="230.17" r="2.9"/><circle cx="220.46" cy="231.32" r="2.9"/><circle cx="234.75" cy="230.74" r="2.9"/><circle cx="249.04" cy="228.46" r="2.9"/><circle cx="263.33" cy="230.17" r="2.9"/><circle cx="277.62" cy="227.88" r="2.9"/><circle cx="291.92" cy="228.46" r="2.9"/><circle cx="306.21" cy="229.03" r="2.9"/><circle cx="320.5" cy="228.46" r="2.9"/></g>
<polyline points="149,286.23 150.86,277.65 152.86,258.77 154.72,238.18 155.86,215.87 157.15,204.43 158.29,195.85 159.72,194.14 161.15,192.99 162.58,192.42 163.29,193.56 164.72,195.85 166.15,197 167.58,198.14 169.72,199.28 171.87,199 173.87,202.72 175.44,204.43 177.01,205.58 179.01,206.72 181.87,207.29 184.73,200.43 188.73,211.3 192.73,196.42 206.17,188.99 220.46,198.14 234.75,191.85 249.04,194.14 263.33,192.99 277.62,192.99 291.92,192.99 306.21,192.99 320.5,191.85" fill="none" stroke="#edb120" stroke-width="1"/>
<g fill="none" stroke="#edb120" stroke-width="0.9"><circle cx="149" cy="286.23" r="2.9"/><circle cx="150.86" cy="277.65" r="2.9"/><circle cx="152.86" cy="258.77" r="2.9"/><circle cx="154.72" cy="238.18" r="2.9"/><circle cx="155.86" cy="215.87" r="2.9"/><circle cx="157.15" cy="204.43" r="2.9"/><circle cx="158.29" cy="195.85" r="2.9"/><circle cx="159.72" cy="194.14" r="2.9"/><circle cx="161.15" cy="192.99" r="2.9"/><circle cx="162.58" cy="192.42" r="2.9"/><circle cx="163.29" cy="193.56" r="2.9"/><circle cx="164.72" cy="195.85" r="2.9"/><circle cx="166.15" cy="197" r="2.9"/><circle cx="167.58" cy="198.14" r="2.9"/><circle cx="169.72" cy="199.28" r="2.9"/><circle cx="171.87" cy="199" r="2.9"/><circle cx="173.87" cy="202.72" r="2.9"/><circle cx="175.44" cy="204.43" r="2.9"/><circle cx="177.01" cy="205.58" r="2.9"/><circle cx="179.01" cy="206.72" r="2.9"/><circle cx="181.87" cy="207.29" r="2.9"/><circle cx="184.73" cy="200.43" r="2.9"/><circle cx="188.73" cy="211.3" r="2.9"/><circle cx="192.73" cy="196.42" r="2.9"/><circle cx="206.17" cy="188.99" r="2.9"/><circle cx="220.46" cy="198.14" r="2.9"/><circle cx="234.75" cy="191.85" r="2.9"/><circle cx="249.04" cy="194.14" r="2.9"/><circle cx="263.33" cy="192.99" r="2.9"/><circle cx="277.62" cy="192.99" r="2.9"/><circle cx="291.92" cy="192.99" r="2.9"/><circle cx="306.21" cy="192.99" r="2.9"/><circle cx="320.5" cy="191.85" r="2.9"/></g>
<line x1="243.5" y1="249.4" x2="269" y2="249.4" stroke="#0072bd" stroke-width="1"/>
<circle cx="256.25" cy="249.4" r="2.9" fill="none" stroke="#0072bd" stroke-width="0.9"/>
<text x="271.6" y="252.3" font-size="7.8" fill="#262626">OP = x + y</text>
<line x1="243.5" y1="259.3" x2="269" y2="259.3" stroke="#d95319" stroke-width="1"/>
<circle cx="256.25" cy="259.3" r="2.9" fill="none" stroke="#d95319" stroke-width="0.9"/>
<text x="271.6" y="262.2" font-size="7.8" fill="#262626">IP1 = x + z</text>
<line x1="243.5" y1="269.2" x2="269" y2="269.2" stroke="#edb120" stroke-width="1"/>
<circle cx="256.25" cy="269.2" r="2.9" fill="none" stroke="#edb120" stroke-width="0.9"/>
<text x="271.6" y="272.1" font-size="7.8" fill="#262626">IP2 = y + z</text>
<text x="328.0" y="163.6" font-size="12">(g)</text>
<rect x="375.06" y="171" width="10.86" height="114.4" fill="#d4e9b9"/>
<rect x="366.2" y="171" width="171.5" height="114.4" fill="none" stroke="#262626" stroke-width="0.6"/>
<g stroke="#262626" stroke-width="0.5"><line x1="380.49" y1="285.4" x2="380.49" y2="283.7"/><line x1="380.49" y1="171" x2="380.49" y2="172.7"/><line x1="409.07" y1="285.4" x2="409.07" y2="283.7"/><line x1="409.07" y1="171" x2="409.07" y2="172.7"/><line x1="437.66" y1="285.4" x2="437.66" y2="283.7"/><line x1="437.66" y1="171" x2="437.66" y2="172.7"/><line x1="466.24" y1="285.4" x2="466.24" y2="283.7"/><line x1="466.24" y1="171" x2="466.24" y2="172.7"/><line x1="494.83" y1="285.4" x2="494.83" y2="283.7"/><line x1="494.83" y1="171" x2="494.83" y2="172.7"/><line x1="523.41" y1="285.4" x2="523.41" y2="283.7"/><line x1="523.41" y1="171" x2="523.41" y2="172.7"/><line x1="366.2" y1="285.4" x2="367.9" y2="285.4"/><line x1="537.7" y1="285.4" x2="536" y2="285.4"/><line x1="366.2" y1="256.8" x2="367.9" y2="256.8"/><line x1="537.7" y1="256.8" x2="536" y2="256.8"/><line x1="366.2" y1="228.2" x2="367.9" y2="228.2"/><line x1="537.7" y1="228.2" x2="536" y2="228.2"/><line x1="366.2" y1="199.6" x2="367.9" y2="199.6"/><line x1="537.7" y1="199.6" x2="536" y2="199.6"/><line x1="366.2" y1="171" x2="367.9" y2="171"/><line x1="537.7" y1="171" x2="536" y2="171"/></g>
<g font-size="8.4" fill="#262626"><text x="380.49" y="296.6" text-anchor="middle">0.2</text><text x="409.07" y="296.6" text-anchor="middle">0.4</text><text x="437.66" y="296.6" text-anchor="middle">0.6</text><text x="466.24" y="296.6" text-anchor="middle">0.8</text><text x="494.83" y="296.6" text-anchor="middle">1.0</text><text x="523.41" y="296.6" text-anchor="middle">1.2</text><text x="363" y="288.4" text-anchor="end">0</text><text x="363" y="259.8" text-anchor="end">5</text><text x="363" y="231.2" text-anchor="end">10</text><text x="363" y="202.6" text-anchor="end">15</text><text x="363" y="174" text-anchor="end">20</text></g>
<text x="452.95" y="308.1" font-size="9.6" fill="#262626" text-anchor="middle">Radius of cross section (μm)</text>
<text font-size="9.65" fill="#262626" text-anchor="middle" transform="translate(349.1,227.9) rotate(-90)">Normalized output power (%)</text>
<text x="451.95" y="168.2" font-size="9.3" font-weight="bold" fill="#000" text-anchor="middle">Output y</text>
<polyline points="366.2,285.11 367.06,280.58 367.91,277.04 368.77,271.79 369.63,268.26 370.49,263.01 371.34,259.47 372.2,254.22 373.06,250.69 373.92,245.43 374.77,239.64 375.49,236.21 376.2,234.49 377.63,236.78 379.06,239.64 380.49,241.36 381.92,243.07 383.35,243.64 384.78,241.36 386.21,238.5 387.64,236.78 389.07,235.64 390.5,235.06 391.93,233.35 393.35,232.2 394.78,231.06 396.93,230.49 399.07,229.92 401.93,224.77 404.79,231.06 409.07,229.34 423.37,225.91 437.66,229.92 451.95,225.34 466.24,228.77 480.53,225.34 494.83,228.2 509.12,225.34 523.41,227.63 537.7,225.34" fill="none" stroke="#0072bd" stroke-width="1"/>
<g fill="none" stroke="#0072bd" stroke-width="0.9"><circle cx="366.2" cy="285.11" r="2.9"/><circle cx="367.06" cy="280.58" r="2.9"/><circle cx="367.91" cy="277.04" r="2.9"/><circle cx="368.77" cy="271.79" r="2.9"/><circle cx="369.63" cy="268.26" r="2.9"/><circle cx="370.49" cy="263.01" r="2.9"/><circle cx="371.34" cy="259.47" r="2.9"/><circle cx="372.2" cy="254.22" r="2.9"/><circle cx="373.06" cy="250.69" r="2.9"/><circle cx="373.92" cy="245.43" r="2.9"/><circle cx="374.77" cy="239.64" r="2.9"/><circle cx="375.49" cy="236.21" r="2.9"/><circle cx="376.2" cy="234.49" r="2.9"/><circle cx="377.63" cy="236.78" r="2.9"/><circle cx="379.06" cy="239.64" r="2.9"/><circle cx="380.49" cy="241.36" r="2.9"/><circle cx="381.92" cy="243.07" r="2.9"/><circle cx="383.35" cy="243.64" r="2.9"/><circle cx="384.78" cy="241.36" r="2.9"/><circle cx="386.21" cy="238.5" r="2.9"/><circle cx="387.64" cy="236.78" r="2.9"/><circle cx="389.07" cy="235.64" r="2.9"/><circle cx="390.5" cy="235.06" r="2.9"/><circle cx="391.93" cy="233.35" r="2.9"/><circle cx="393.35" cy="232.2" r="2.9"/><circle cx="394.78" cy="231.06" r="2.9"/><circle cx="396.93" cy="230.49" r="2.9"/><circle cx="399.07" cy="229.92" r="2.9"/><circle cx="401.93" cy="224.77" r="2.9"/><circle cx="404.79" cy="231.06" r="2.9"/><circle cx="409.07" cy="229.34" r="2.9"/><circle cx="423.37" cy="225.91" r="2.9"/><circle cx="437.66" cy="229.92" r="2.9"/><circle cx="451.95" cy="225.34" r="2.9"/><circle cx="466.24" cy="228.77" r="2.9"/><circle cx="480.53" cy="225.34" r="2.9"/><circle cx="494.83" cy="228.2" r="2.9"/><circle cx="509.12" cy="225.34" r="2.9"/><circle cx="523.41" cy="227.63" r="2.9"/><circle cx="537.7" cy="225.34" r="2.9"/></g>
<polyline points="366.2,284.83 368.06,276.25 370.06,257.37 371.92,236.78 373.06,214.47 374.35,203.03 375.49,194.45 376.92,192.74 378.35,191.59 379.78,191.02 380.49,192.16 381.92,194.45 383.35,195.6 384.78,196.74 386.92,197.88 389.07,197.6 391.07,201.32 392.64,203.03 394.21,204.18 396.21,205.32 399.07,205.89 401.93,199.03 405.93,209.9 409.93,195.02 423.37,187.59 437.66,196.74 451.95,190.45 466.24,192.74 480.53,191.59 494.83,191.59 509.12,191.59 523.41,191.59 537.7,190.45" fill="none" stroke="#d95319" stroke-width="1"/>
<g fill="none" stroke="#d95319" stroke-width="0.9"><circle cx="366.2" cy="284.83" r="2.9"/><circle cx="368.06" cy="276.25" r="2.9"/><circle cx="370.06" cy="257.37" r="2.9"/><circle cx="371.92" cy="236.78" r="2.9"/><circle cx="373.06" cy="214.47" r="2.9"/><circle cx="374.35" cy="203.03" r="2.9"/><circle cx="375.49" cy="194.45" r="2.9"/><circle cx="376.92" cy="192.74" r="2.9"/><circle cx="378.35" cy="191.59" r="2.9"/><circle cx="379.78" cy="191.02" r="2.9"/><circle cx="380.49" cy="192.16" r="2.9"/><circle cx="381.92" cy="194.45" r="2.9"/><circle cx="383.35" cy="195.6" r="2.9"/><circle cx="384.78" cy="196.74" r="2.9"/><circle cx="386.92" cy="197.88" r="2.9"/><circle cx="389.07" cy="197.6" r="2.9"/><circle cx="391.07" cy="201.32" r="2.9"/><circle cx="392.64" cy="203.03" r="2.9"/><circle cx="394.21" cy="204.18" r="2.9"/><circle cx="396.21" cy="205.32" r="2.9"/><circle cx="399.07" cy="205.89" r="2.9"/><circle cx="401.93" cy="199.03" r="2.9"/><circle cx="405.93" cy="209.9" r="2.9"/><circle cx="409.93" cy="195.02" r="2.9"/><circle cx="423.37" cy="187.59" r="2.9"/><circle cx="437.66" cy="196.74" r="2.9"/><circle cx="451.95" cy="190.45" r="2.9"/><circle cx="466.24" cy="192.74" r="2.9"/><circle cx="480.53" cy="191.59" r="2.9"/><circle cx="494.83" cy="191.59" r="2.9"/><circle cx="509.12" cy="191.59" r="2.9"/><circle cx="523.41" cy="191.59" r="2.9"/><circle cx="537.7" cy="190.45" r="2.9"/></g>
<polyline points="366.2,284.83 367.06,281.72 367.91,276.32 368.77,273.2 369.63,267.81 370.49,264.69 371.34,259.29 372.2,256.18 373.06,250.78 373.92,247.67 374.77,239.64 375.49,235.06 376.2,233.35 377.63,232.78 379.06,232.2 380.49,233.35 381.92,231.63 383.35,230.49 384.78,228.77 386.21,229.92 387.64,229.34 389.07,228.77 390.5,227.63 391.93,226.48 393.35,227.06 394.78,227.63 396.93,227.06 399.07,226.48 401.93,225.91 404.79,236.21 409.07,231.63 423.37,228.77 437.66,229.92 451.95,229.34 466.24,227.06 480.53,228.77 494.83,226.48 509.12,227.06 523.41,227.63 537.7,227.06" fill="none" stroke="#edb120" stroke-width="1"/>
<g fill="none" stroke="#edb120" stroke-width="0.9"><circle cx="366.2" cy="284.83" r="2.9"/><circle cx="367.06" cy="281.72" r="2.9"/><circle cx="367.91" cy="276.32" r="2.9"/><circle cx="368.77" cy="273.2" r="2.9"/><circle cx="369.63" cy="267.81" r="2.9"/><circle cx="370.49" cy="264.69" r="2.9"/><circle cx="371.34" cy="259.29" r="2.9"/><circle cx="372.2" cy="256.18" r="2.9"/><circle cx="373.06" cy="250.78" r="2.9"/><circle cx="373.92" cy="247.67" r="2.9"/><circle cx="374.77" cy="239.64" r="2.9"/><circle cx="375.49" cy="235.06" r="2.9"/><circle cx="376.2" cy="233.35" r="2.9"/><circle cx="377.63" cy="232.78" r="2.9"/><circle cx="379.06" cy="232.2" r="2.9"/><circle cx="380.49" cy="233.35" r="2.9"/><circle cx="381.92" cy="231.63" r="2.9"/><circle cx="383.35" cy="230.49" r="2.9"/><circle cx="384.78" cy="228.77" r="2.9"/><circle cx="386.21" cy="229.92" r="2.9"/><circle cx="387.64" cy="229.34" r="2.9"/><circle cx="389.07" cy="228.77" r="2.9"/><circle cx="390.5" cy="227.63" r="2.9"/><circle cx="391.93" cy="226.48" r="2.9"/><circle cx="393.35" cy="227.06" r="2.9"/><circle cx="394.78" cy="227.63" r="2.9"/><circle cx="396.93" cy="227.06" r="2.9"/><circle cx="399.07" cy="226.48" r="2.9"/><circle cx="401.93" cy="225.91" r="2.9"/><circle cx="404.79" cy="236.21" r="2.9"/><circle cx="409.07" cy="231.63" r="2.9"/><circle cx="423.37" cy="228.77" r="2.9"/><circle cx="437.66" cy="229.92" r="2.9"/><circle cx="451.95" cy="229.34" r="2.9"/><circle cx="466.24" cy="227.06" r="2.9"/><circle cx="480.53" cy="228.77" r="2.9"/><circle cx="494.83" cy="226.48" r="2.9"/><circle cx="509.12" cy="227.06" r="2.9"/><circle cx="523.41" cy="227.63" r="2.9"/><circle cx="537.7" cy="227.06" r="2.9"/></g>
<line x1="460.7" y1="248" x2="486.2" y2="248" stroke="#0072bd" stroke-width="1"/>
<circle cx="473.45" cy="248" r="2.9" fill="none" stroke="#0072bd" stroke-width="0.9"/>
<text x="488.8" y="250.9" font-size="7.8" fill="#262626">OP = x + y</text>
<line x1="460.7" y1="257.9" x2="486.2" y2="257.9" stroke="#d95319" stroke-width="1"/>
<circle cx="473.45" cy="257.9" r="2.9" fill="none" stroke="#d95319" stroke-width="0.9"/>
<text x="488.8" y="260.8" font-size="7.8" fill="#262626">IP1 = x + z</text>
<line x1="460.7" y1="267.8" x2="486.2" y2="267.8" stroke="#edb120" stroke-width="1"/>
<circle cx="473.45" cy="267.8" r="2.9" fill="none" stroke="#edb120" stroke-width="0.9"/>
<text x="488.8" y="270.7" font-size="7.8" fill="#262626">IP2 = y + z</text>
</svg>
</body></html>
